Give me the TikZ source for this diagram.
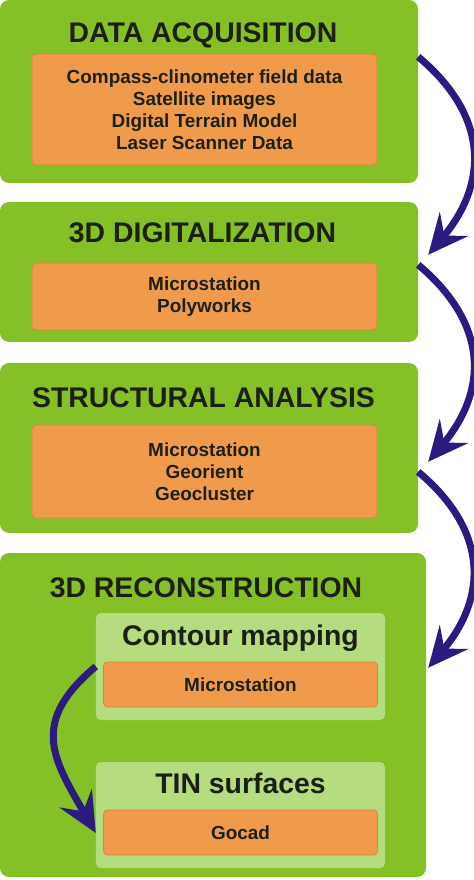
\documentclass[tikz,border=0pt]{standalone}
\usepackage{fontspec}
\setmainfont{Liberation Sans}
\usetikzlibrary{positioning,arrows.meta}

\definecolor{leaf}{RGB}{133,193,38}
\definecolor{paleleaf}{RGB}{182,220,128}
\definecolor{peach}{RGB}{240,155,76}
\definecolor{peachedge}{RGB}{214,132,62}
\definecolor{ink}{RGB}{43,26,128}
\definecolor{darktext}{RGB}{28,32,20}

\begin{document}
\begin{tikzpicture}[x=1bp,y=1bp,on grid,
    stage/.style={fill=leaf,rounded corners=9bp,inner sep=0pt},
    substage/.style={fill=paleleaf,rounded corners=5bp,inner sep=0pt,minimum width=289bp},
    tools/.style={fill=peach,draw=peachedge,line width=0.8bp,rounded corners=4bp,align=center,
        text=darktext,font=\bfseries\fontsize{19}{22}\selectfont,inner sep=0pt},
    heading/.style={text=darktext,font=\bfseries\fontsize{28.5}{30}\selectfont,
        inner sep=0pt,text height=20.5bp,text depth=0pt},
    flow/.style={ink,line width=7bp,-{Stealth[length=40bp,width=37bp,inset=15bp]}}]
    \useasboundingbox (0,0) rectangle (474,880);

    % the four stages
    \node[stage,minimum width=418bp,minimum height=183bp] (acq) at (209,788.5) {};
    \node[stage,minimum width=418bp,minimum height=140bp] (dig) [below=180.5bp of acq] {};
    \node[stage,minimum width=418bp,minimum height=170bp] (struc) [below=176bp of dig] {};
    \node[stage,minimum width=426bp,minimum height=324bp] (recon) [below right=267bp and 4bp of struc] {};

    \node[heading] (acqtitle) [above left=59.5bp and 6bp of acq] {DATA ACQUISITION};
    \node[tools,minimum width=345bp,minimum height=111bp] (acqtools) [below left=18bp and 4.5bp of acq]
        {Compass-clinometer field data\\Satellite images\\Digital Terrain Model\\Laser Scanner Data};

    \node[heading] (digtitle) [above left=40bp and 6.5bp of dig] {3D DIGITALIZATION};
    \node[tools,minimum width=345bp,minimum height=67bp] (digtools) [below left=24.5bp and 4.5bp of dig]
        {Microstation\\Polyworks};

    \node[heading] (structitle) [above left=51bp and 5.5bp of struc] {STRUCTURAL ANALYSIS};
    \node[tools,minimum width=345bp,minimum height=93bp] (structools) [below left=23.5bp and 4.5bp of struc]
        {Microstation\\Georient\\Geocluster};

    \node[heading] (recontitle) [above left=128bp and 7bp of recon] {3D RECONSTRUCTION};

    % inside the reconstruction
    \node[substage,minimum height=107bp] (contour) [above right=48.5bp and 27.5bp of recon] {};
    \node[heading] (contourtitle) [above=31.5bp of contour] {Contour mapping};
    \node[tools,minimum width=274bp,minimum height=45bp] (contourtools) [below=18bp of contour] {Microstation};

    \node[substage,minimum height=106bp] (tin) [below=148.5bp of contour] {};
    \node[heading] (tintitle) [above=32bp of tin] {TIN surfaces};
    \node[tools,minimum width=274bp,minimum height=45bp] (tintools) [below=17.5bp of tin] {Gocad};

    \draw[flow] ([yshift=-57bp]acq.north east) to[out=-40,in=50,looseness=1.2] ([xshift=10bp,yshift=-53bp]dig.north east);
    \draw[flow] ([yshift=-63bp]dig.north east) to[out=-40,in=50,looseness=1.2] ([xshift=10bp,yshift=-99bp]struc.north east);
    \draw[flow] ([yshift=-109bp]struc.north east) to[out=-40,in=50,looseness=1.2] ([xshift=2bp,yshift=-115bp]recon.north east);
    \draw[flow] (contour.west) to[out=220,in=120,looseness=1.33] ([yshift=-18bp]tin.west);
\end{tikzpicture}
\end{document}
